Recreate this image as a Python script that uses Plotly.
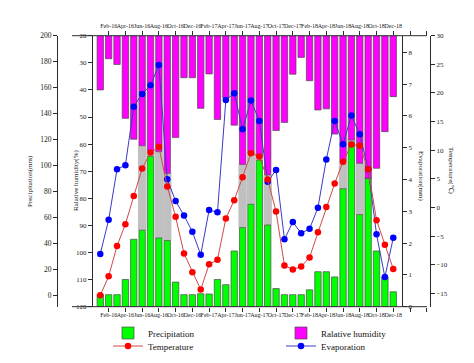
import plotly.graph_objects as go

# ---------------- data ----------------
months = ["Jan-16", "Feb-16", "Mar-16", "Apr-16", "May-16", "Jun-16", "Jul-16", "Aug-16", "Sep-16", "Oct-16", "Nov-16", "Dec-16",
          "Jan-17", "Feb-17", "Mar-17", "Apr-17", "May-17", "Jun-17", "Jul-17", "Aug-17", "Sep-17", "Oct-17", "Nov-17", "Dec-17",
          "Jan-18", "Feb-18", "Mar-18", "Apr-18", "May-18", "Jun-18", "Jul-18", "Aug-18", "Sep-18", "Oct-18", "Nov-18", "Dec-18"]

precipitation = [0.5, 0.3, 0.3, 12, 43, 50, 107, 44, 42, 10, 0.3, 0.3,
                 1, 0.8, 12, 8, 34, 52, 70, 104, 54, 5, 0.3, 0.3,
                 0.3, 4, 18, 18, 14, 82, 118, 62, 90, 34, 14, 2.5]

humidity = [40.0, 28.5, 30.6, 50.5, 58.2, 60.6, 62.5, 62.8, 70.8, 57.6, 35.5, 35.5,
            46.8, 34.1, 50.9, 42.9, 53.0, 67.5, 63.3, 64.8, 71.4, 55.0, 52.0, 34.2,
            28.0, 36.6, 47.4, 47.0, 56.3, 66.2, 58.5, 67.1, 72.6, 68.9, 55.4, 42.5]

temperature = [-15.3, -12.0, -6.7, -2.9, 2.0, 6.8, 9.6, 10.6, 3.7, -1.6, -8.0, -11.3,
               -14.3, -9.9, -9.1, -1.9, 1.3, 5.3, 9.5, 8.9, 4.9, -0.7, -10.1, -10.8,
               -10.3, -8.7, -4.3, 0.1, 4.2, 8.0, 11.0, 10.8, 6.7, -2.2, -6.5, -10.7]

evaporation = [1.66, 2.73, 4.32, 4.45, 6.29, 6.69, 6.96, 7.60, 4.01, 3.32, 2.87, 2.36,
               1.63, 3.04, 2.97, 6.50, 6.71, 5.58, 6.48, 5.84, 3.93, 4.30, 2.12, 2.66,
               2.31, 2.45, 3.11, 4.63, 5.84, 5.11, 6.01, 5.42, 4.32, 2.28, 0.93, 2.17]

wet_season = ["Jun", "Jul", "Aug", "Sep"]

tick_labels = months[1::2]  # Feb-16 ... Dec-18

# ---------------- geometry / style ----------------
W, H = 474, 363
FONT = "Liberation Serif"
AX = "#2a2a2a"
TXT = "#1a1a1a"

X_RANGE = [0.13, 40.03]
P_RANGE = [-9, 200]
RH_RANGE = [120, 20]
E_RANGE = [0, 8.52]
T_RANGE = [-17.3, 30]


def fx(p):
    return p / W


def fy(p):
    return 1 - p / H


PLOT_L, PLOT_R, PLOT_T, PLOT_B = 93, 427, 35.7, 306.7

x = list(range(1, len(months) + 1))
tickvals = list(range(2, 41, 2))
ticktext = tick_labels + [""] * (len(tickvals) - len(tick_labels))


def rh_on_precip_axis(rh):
    frac = (RH_RANGE[0] - rh) / (RH_RANGE[0] - RH_RANGE[1])
    return P_RANGE[0] + frac * (P_RANGE[1] - P_RANGE[0])


wet_x, wet_base, wet_len = [], [], []
for xi, m, p, h in zip(x, months, precipitation, humidity):
    if m[:3] in wet_season:
        wet_x.append(xi)
        wet_base.append(p)
        wet_len.append(rh_on_precip_axis(h) - p)

fig = go.Figure()

fig.add_trace(go.Bar(x=wet_x, y=wet_len, base=wet_base, width=1.0,
                     marker=dict(color="#c0c0c0", line=dict(width=0)),
                     showlegend=False, hoverinfo="skip", yaxis="y"))

fig.add_trace(go.Bar(x=x, y=[p - P_RANGE[0] for p in precipitation], base=P_RANGE[0], width=0.76,
                     name="Precipitation", legend="legend",
                     marker=dict(color="#00ff00", line=dict(color="#4a4a4a", width=0.7)),
                     yaxis="y"))

fig.add_trace(go.Bar(x=x, y=[h - RH_RANGE[1] for h in humidity], base=RH_RANGE[1], width=0.76,
                     name="Ralative humidity", legend="legend",
                     marker=dict(color="#ff00ff", line=dict(color="#4a4a4a", width=0.7)),
                     yaxis="y2"))

fig.add_trace(go.Scatter(x=x, y=evaporation, mode="lines+markers", name="Evaporation",
                         legend="legend2", legendrank=2,
                         line=dict(color="#3a3ac8", width=1),
                         marker=dict(color="#0000ff", size=6.5),
                         yaxis="y3"))

fig.add_trace(go.Scatter(x=x, y=temperature, mode="lines+markers", name="Temperature",
                         legend="legend2", legendrank=1,
                         line=dict(color="#d04848", width=1),
                         marker=dict(color="#ff0000", size=6.5),
                         yaxis="y4"))

# dummy trace to realise the top x axis
fig.add_trace(go.Scatter(x=[x[0]], y=[None], xaxis="x2", yaxis="y", showlegend=False,
                         hoverinfo="skip", mode="markers"))

tickfont_x = dict(family=FONT, size=6, color=TXT)
common_x = dict(range=X_RANGE, tickmode="array", tickvals=tickvals, ticktext=ticktext,
                ticks="outside", ticklen=4, tickcolor=AX, tickwidth=1, showgrid=False,
                zeroline=False, showline=False, tickangle=0, tickfont=tickfont_x,
                automargin=False, color=AX)


def yax(**kw):
    base = dict(ticks="outside", ticklen=4, tickcolor=AX, tickwidth=1, color=AX,
                showline=True, linecolor=AX, linewidth=1, showgrid=False, zeroline=False,
                automargin=False, tickfont=dict(family=FONT, size=7, color=TXT))
    base.update(kw)
    return base


ydom = [fy(PLOT_B), fy(PLOT_T)]

legend_common = dict(orientation="h", xanchor="left", yanchor="middle",
                     entrywidth=128, entrywidthmode="pixels", traceorder="normal",
                     font=dict(family=FONT, size=9, color="#111"), bgcolor="rgba(0,0,0,0)",
                     tracegroupgap=0)

fig.update_layout(
    width=W, height=H,
    margin=dict(l=0, r=0, t=0, b=0, autoexpand=False),
    paper_bgcolor="white", plot_bgcolor="rgba(0,0,0,0)",
    barmode="overlay",
    font=dict(family=FONT, color=TXT),
    xaxis=dict(domain=[fx(PLOT_L), fx(PLOT_R)], anchor="y", ticklabelstandoff=-2, **common_x),
    xaxis2=dict(overlaying="x", side="top", anchor="y", **common_x),
    yaxis=yax(domain=ydom, range=P_RANGE, anchor="free", position=fx(57), side="left",
              tick0=0, dtick=20, tickfont=dict(family=FONT, size=7.5, color=TXT)),
    yaxis2=yax(overlaying="y", range=RH_RANGE, anchor="x", side="left", tick0=20, dtick=10),
    yaxis3=yax(overlaying="y", range=E_RANGE, anchor="free", position=fx(402), side="right",
               tick0=0, dtick=1),
    yaxis4=yax(overlaying="y", range=T_RANGE, anchor="free", position=fx(430), side="right",
               tick0=-15, dtick=5),
    legend=dict(x=fx(108), y=fy(333), **legend_common),
    legend2=dict(x=fx(108), y=fy(346), **legend_common),
    showlegend=True,
)

# frame lines (top and bottom), extending left to the humidity axis labels
for yy in (PLOT_T, PLOT_B):
    fig.add_shape(type="line", xref="paper", yref="paper", x0=fx(72), x1=fx(PLOT_R),
                  y0=fy(yy), y1=fy(yy), line=dict(color=AX, width=1))

titles = [
    ("Precipitation(mm)", 30, 181, -90),
    ("Ralative humidity(%)", 76, 180, -90),
    ("Evaporation(mm)", 421, 176, 90),
    ("Temperature(℃)", 451, 171, 90),
]
for text, px_, py_, ang in titles:
    fig.add_annotation(text=text, x=fx(px_), y=fy(py_), xref="paper", yref="paper",
                       showarrow=False, textangle=ang, xanchor="center", yanchor="middle",
                       font=dict(family=FONT, size=7, color=TXT))

fig.write_html("out.html", config={"displayModeBar": False},
               post_script="document.body.style.margin='0px';")
